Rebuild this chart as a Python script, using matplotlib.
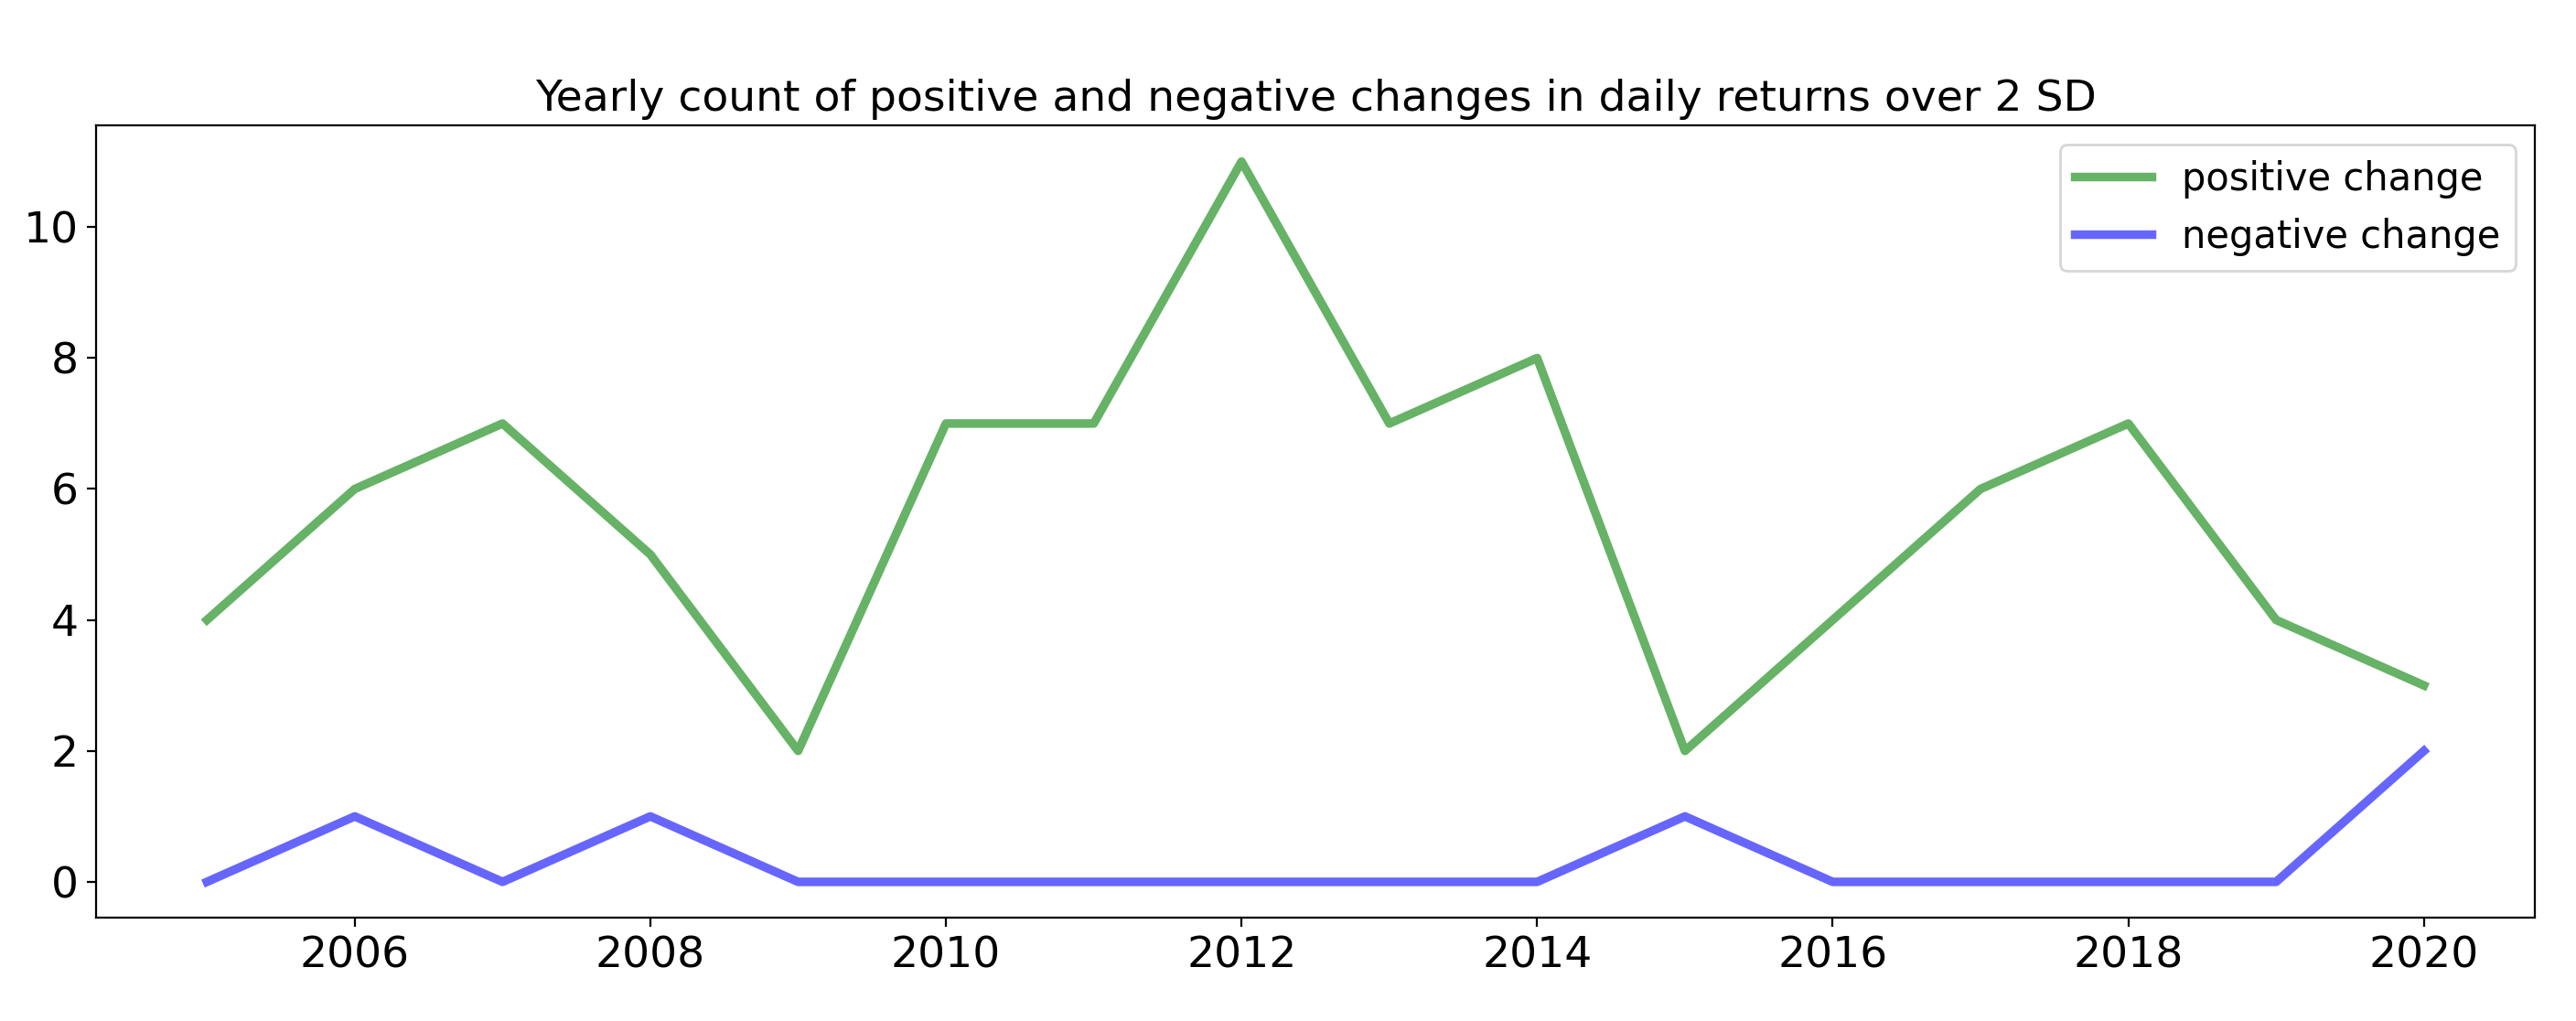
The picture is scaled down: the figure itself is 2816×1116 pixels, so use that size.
import matplotlib
matplotlib.use("Agg")
import matplotlib.pyplot as plt

# Yearly counts
years = [2005, 2006, 2007, 2008, 2009, 2010, 2011, 2012,
         2013, 2014, 2015, 2016, 2017, 2018, 2019, 2020]
positive = [4, 6, 7, 5, 2, 7, 7, 11, 7, 8, 2, 4, 6, 7, 4, 3]
negative = [0, 1, 0, 1, 0, 0, 0, 0, 0, 0, 1, 0, 0, 0, 0, 2]

fig = plt.figure(figsize=(14.08, 5.58), dpi=200)
ax = fig.add_axes([0.0373, 0.101, 0.9467, 0.776])

ax.plot(years, positive, color="green", alpha=0.6, linewidth=3.4, label="positive change")
ax.plot(years, negative, color="blue", alpha=0.6, linewidth=3.4, label="negative change")

ax.set_title("Yearly count of positive and negative changes in daily returns over 2 SD", fontsize=17)
ax.tick_params(labelsize=17)
ax.legend(fontsize=15, loc="upper right")

fig.savefig("out.png", dpi=200)
